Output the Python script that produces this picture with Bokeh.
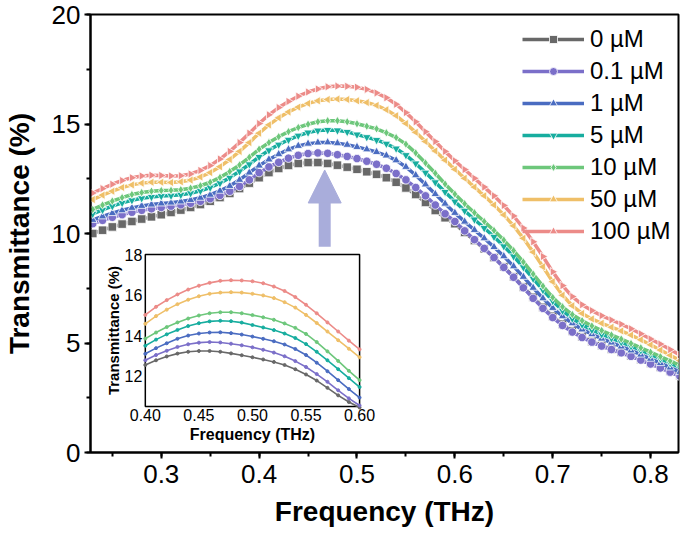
import math
from bokeh.plotting import figure
from bokeh.models import (Range1d, SingleIntervalTicker, Legend, LegendItem,
                          Arrow, NormalHead)
from bokeh.core.properties import value
from bokeh.embed import file_html
from bokeh.resources import INLINE

# ---------------- data ----------------
freq = [0.23, 0.24, 0.25, 0.26, 0.27, 0.28, 0.29, 0.30, 0.31, 0.32,
        0.33, 0.34, 0.35, 0.36, 0.37, 0.38, 0.39, 0.40, 0.41, 0.42,
        0.43, 0.44, 0.45, 0.46, 0.47, 0.48, 0.49, 0.50, 0.51, 0.52,
        0.53, 0.54, 0.55, 0.56, 0.57, 0.58, 0.59, 0.60, 0.61, 0.62,
        0.63, 0.64, 0.65, 0.66, 0.67, 0.68, 0.69, 0.70, 0.71, 0.72,
        0.73, 0.74, 0.75, 0.76, 0.77, 0.78, 0.79, 0.80, 0.81, 0.82, 0.83]

t_0uM = [10.00, 10.15, 10.30, 10.43, 10.55, 10.66, 10.76, 10.86, 10.96, 11.07,
         11.19, 11.32, 11.47, 11.64, 11.83, 12.05, 12.30, 12.55, 12.78, 12.97,
         13.11, 13.20, 13.24, 13.24, 13.20, 13.12, 13.03, 12.93, 12.82, 12.70,
         12.55, 12.34, 12.08, 11.78, 11.42, 11.05, 10.72, 10.45, 10.05, 9.68,
         9.30, 8.90, 8.48, 8.03, 7.56, 7.09, 6.63, 6.22, 5.86, 5.55,
         5.29, 5.07, 4.89, 4.73, 4.58, 4.42, 4.25, 4.07, 3.89, 3.71, 3.52]
t_01uM = [10.45, 10.60, 10.74, 10.86, 10.97, 11.06, 11.13, 11.19, 11.25, 11.31,
          11.38, 11.47, 11.59, 11.74, 11.93, 12.15, 12.45, 12.78, 13.04, 13.25,
          13.44, 13.57, 13.65, 13.68, 13.66, 13.60, 13.52, 13.42, 13.30, 13.16,
          12.98, 12.74, 12.45, 12.10, 11.72, 11.30, 10.90, 10.55, 10.12, 9.72,
          9.32, 8.90, 8.45, 8.00, 7.52, 7.04, 6.58, 6.16, 5.80, 5.50,
          5.25, 5.04, 4.86, 4.70, 4.55, 4.39, 4.22, 4.04, 3.86, 3.67, 3.48]
t_1uM = [10.62, 10.78, 10.93, 11.06, 11.17, 11.26, 11.32, 11.37, 11.41, 11.46,
         11.53, 11.63, 11.77, 11.95, 12.17, 12.45, 12.78, 13.10, 13.38, 13.62,
         13.84, 14.00, 14.10, 14.15, 14.16, 14.12, 14.05, 13.95, 13.84, 13.72,
         13.56, 13.34, 13.04, 12.66, 12.24, 11.80, 11.36, 10.94, 10.54, 10.16,
         9.78, 9.38, 8.96, 8.50, 8.02, 7.52, 7.04, 6.60, 6.22, 5.90,
         5.62, 5.40, 5.20, 5.02, 4.84, 4.66, 4.47, 4.28, 4.08, 3.88, 3.68]
t_5uM = [10.90, 11.08, 11.25, 11.40, 11.52, 11.61, 11.67, 11.71, 11.73, 11.77,
         11.84, 11.95, 12.10, 12.30, 12.55, 12.84, 13.16, 13.50, 13.80, 14.06,
         14.28, 14.47, 14.61, 14.70, 14.73, 14.71, 14.64, 14.52, 14.40, 14.27,
         14.10, 13.88, 13.58, 13.20, 12.78, 12.34, 11.90, 11.46, 11.04, 10.64,
         10.25, 9.85, 9.42, 8.96, 8.46, 7.94, 7.42, 6.92, 6.48, 6.12,
         5.84, 5.60, 5.40, 5.22, 5.04, 4.86, 4.67, 4.48, 4.28, 4.08, 3.88]
t_10uM = [11.10, 11.30, 11.48, 11.64, 11.78, 11.87, 11.93, 11.96, 11.97, 12.00,
          12.07, 12.18, 12.34, 12.56, 12.83, 13.13, 13.48, 13.85, 14.15, 14.42,
          14.65, 14.84, 14.99, 15.10, 15.15, 15.15, 15.10, 15.01, 14.90, 14.78,
          14.60, 14.38, 14.08, 13.68, 13.22, 12.75, 12.26, 11.80, 11.36, 10.95,
          10.55, 10.14, 9.70, 9.22, 8.70, 8.15, 7.60, 7.08, 6.65, 6.30,
          6.02, 5.78, 5.57, 5.37, 5.18, 4.98, 4.78, 4.58, 4.38, 4.18, 3.98]
t_50uM = [11.55, 11.75, 11.93, 12.10, 12.22, 12.30, 12.34, 12.34, 12.33, 12.36,
          12.44, 12.58, 12.78, 13.05, 13.38, 13.75, 14.15, 14.58, 14.96, 15.28,
          15.55, 15.77, 15.94, 16.06, 16.12, 16.14, 16.12, 16.06, 15.98, 15.85,
          15.65, 15.38, 15.02, 14.62, 14.20, 13.77, 13.35, 12.93, 12.52, 12.12,
          11.72, 11.30, 10.85, 10.35, 9.78, 9.15, 8.48, 7.80, 7.18, 6.70,
          6.35, 6.10, 5.90, 5.72, 5.55, 5.36, 5.15, 4.92, 4.68, 4.44, 4.20]
t_100uM = [11.85, 12.05, 12.25, 12.42, 12.55, 12.63, 12.66, 12.65, 12.63, 12.64,
           12.72, 12.88, 13.10, 13.40, 13.75, 14.15, 14.58, 15.02, 15.42, 15.75,
           16.03, 16.27, 16.46, 16.60, 16.70, 16.73, 16.72, 16.68, 16.58, 16.42,
           16.20, 15.90, 15.52, 15.10, 14.65, 14.20, 13.75, 13.32, 12.92, 12.52,
           12.12, 11.72, 11.28, 10.80, 10.25, 9.62, 8.95, 8.25, 7.62, 7.12,
           6.75, 6.48, 6.25, 6.05, 5.86, 5.65, 5.42, 5.18, 4.95, 4.70, 4.45]

labels = ["0 µM", "0.1 µM", "1 µM", "5 µM", "10 µM", "50 µM", "100 µM"]
series = [t_0uM, t_01uM, t_1uM, t_5uM, t_10uM, t_50uM, t_100uM]

inset_x_ticks = [0.40, 0.45, 0.50, 0.55, 0.60]
inset_x_tick_labels = ["0.40", "0.45", "0.50", "0.55", "0.60"]
inset_y_ticks = [12, 14, 16, 18]
inset_y_tick_labels = ["12", "14", "16", "18"]

# arrow (data position)
arrow_x = 0.467
arrow_y0 = 9.4
arrow_y1 = 12.9

# ---------------- styles / layout ----------------
colors = ["#686868", "#7b6fc9", "#4a6cc1", "#17ad9f", "#6dc77b", "#efbf68", "#ec8b88"]
markers = ["square", "circle", "triangle", "inverted_triangle", "diamond", "triangle", "triangle"]
angles = [0, 0, 0, 0, 0, math.pi / 2, -math.pi / 2]
arrow_color = "#a9addb"
FONT = "Liberation Sans"

W, H = 685, 535
FL, FR, FT, FB = 88, 678, 14, 452           # frame edges in px
X0, X1 = 0.2277, 0.8285
Y0, Y1 = 0.0, 20.0

# inset box in px and its data limits
IL, IR, IT, IB = 143, 358, 254, 406
IX0, IX1, IY0, IY1 = 0.40, 0.60, 10.5, 18.0

p = figure(width=W, height=H, x_range=Range1d(X0, X1), y_range=Range1d(Y0, Y1),
           output_backend="svg", toolbar_location=None,
           min_border_left=FL, min_border_right=W - FR,
           min_border_top=FT, min_border_bottom=H - FB)
p.background_fill_color = "white"
p.border_fill_color = "white"
p.xgrid.visible = False
p.ygrid.visible = False
p.outline_line_color = "black"
p.outline_line_width = 2
p.outline_line_alpha = 1

p.xaxis.ticker = SingleIntervalTicker(interval=0.1, num_minor_ticks=2)
p.yaxis.ticker = SingleIntervalTicker(interval=5, num_minor_ticks=2)
p.xaxis.axis_label = "Frequency (THz)"
p.yaxis.axis_label = "Transmittance (%)"
for ax in (p.xaxis, p.yaxis):
    ax.axis_line_width = 2
    ax.major_tick_line_width = 2
    ax.minor_tick_line_width = 2
    ax.major_tick_out = 6
    ax.major_tick_in = 0
    ax.minor_tick_out = 4
    ax.minor_tick_in = 0
    ax.major_label_text_font = FONT
    ax.major_label_text_font_size = "26px"
    ax.major_label_text_color = "black"
    ax.axis_label_text_font = FONT
    ax.axis_label_text_font_size = "28px"
    ax.axis_label_text_font_style = "bold"
    ax.axis_label_text_color = "black"
p.xaxis.major_label_standoff = 6
p.yaxis.major_label_standoff = 4
p.xaxis.axis_label_standoff = 10
p.yaxis.axis_label_standoff = 14
p.xaxis.formatter.use_scientific = False

# ---------------- main curves ----------------
items = []
for lab, ys, c, m, a in zip(labels, series, colors, markers, angles):
    lr = p.line(freq, ys, line_color=c, line_width=3.5)
    sr = p.scatter(freq, ys, marker=m, size=8.5, angle=a,
                   fill_color=c, line_color="white", line_width=0.8)
    items.append(LegendItem(label=lab, renderers=[lr, sr]))

# arrow
p.add_layout(Arrow(end=NormalHead(size=33, fill_color=arrow_color, line_color=arrow_color),
                   x_start=arrow_x, y_start=arrow_y0, x_end=arrow_x, y_end=arrow_y1,
                   line_color=arrow_color, line_width=12))

# ---------------- inset (extra ranges through the library scales) ----------------
sx = (IR - IL) / (IX1 - IX0)
sy = (IB - IT) / (IY1 - IY0)
p.extra_x_ranges = {"ix": Range1d(IX0 - (IL - FL) / sx, IX1 + (FR - IR) / sx)}
p.extra_y_ranges = {"iy": Range1d(IY0 - (FB - IB) / sy, IY1 + (IT - FT) / sy)}

p.quad(left=[IX0], right=[IX1], bottom=[IY0], top=[IY1],
       x_range_name="ix", y_range_name="iy",
       fill_color="white", line_color="black", line_width=1.5)

idx = [i for i, f in enumerate(freq) if IX0 - 1e-9 <= f <= IX1 + 1e-9]
fin = [freq[i] for i in idx]
for ys, c in zip(series, colors):
    yin = [ys[i] for i in idx]
    p.line(fin, yin, line_color=c, line_width=1.6, x_range_name="ix", y_range_name="iy")
    p.scatter(fin, yin, size=3, marker="circle", fill_color=c, line_color=c,
              x_range_name="ix", y_range_name="iy")

p.text(x=inset_x_ticks, y=[IY0] * len(inset_x_ticks), text=inset_x_tick_labels,
       x_range_name="ix", y_range_name="iy", text_font=value(FONT),
       text_font_size="16px", text_align="center", text_baseline="top", y_offset=2,
       text_color="black")
p.text(x=[IX0] * len(inset_y_ticks), y=inset_y_ticks, text=inset_y_tick_labels,
       x_range_name="ix", y_range_name="iy", text_font=value(FONT),
       text_font_size="16px", text_align="right", text_baseline="middle", x_offset=-3,
       text_color="black")
p.text(x=[(IX0 + IX1) / 2], y=[IY0], text=["Frequency (THz)"],
       x_range_name="ix", y_range_name="iy", text_font=value(FONT),
       text_font_size="16px", text_font_style="bold", text_align="center",
       text_baseline="middle", y_offset=28, text_color="black")
p.text(x=[IX0], y=[(IY0 + IY1) / 2], text=["Transmittance (%)"],
       x_range_name="ix", y_range_name="iy", text_font=value(FONT),
       text_font_size="15px", text_font_style="bold", text_align="center",
       text_baseline="middle", x_offset=-32, angle=math.pi / 2, text_color="black")

# ---------------- legend ----------------
legend = Legend(items=items, location=(432, 207),
                label_text_font=FONT, label_text_font_size="24px",
                label_text_color="black",
                glyph_width=62, glyph_height=20, label_height=20, label_standoff=6,
                spacing=4, padding=0, margin=0,
                border_line_alpha=0, background_fill_alpha=0)
p.add_layout(legend)

open("out.html", "w").write(file_html(p, INLINE))
